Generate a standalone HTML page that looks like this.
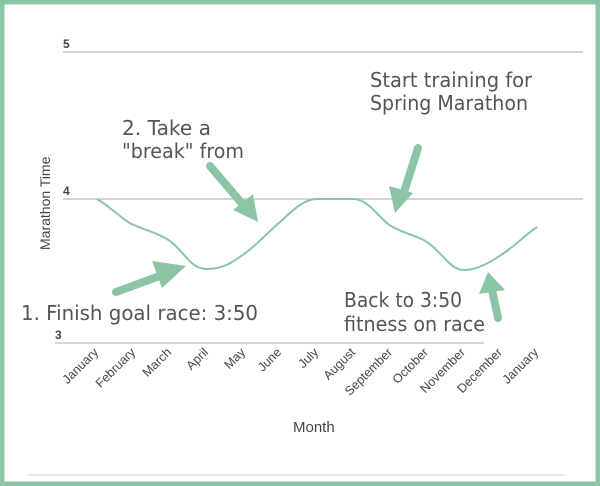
<!DOCTYPE html>
<html><head><style>
body{margin:0;background:#fff}
svg{display:block}
</style></head><body>
<svg width="600" height="486" xmlns="http://www.w3.org/2000/svg" font-family="Liberation Sans, sans-serif">
<rect x="2" y="2" width="596" height="482" fill="#fff" stroke="#8cc4a6" stroke-width="5"/>
<g stroke="#bbb" stroke-width="1.2">
<line x1="63" y1="52" x2="583" y2="52"/>
<line x1="63" y1="199" x2="583" y2="199"/>
<line x1="55" y1="343" x2="484" y2="343"/>
</g>
<line x1="28" y1="475" x2="565" y2="475" stroke="#e6e6e6" stroke-width="2"/>
<g font-size="12" font-weight="bold" fill="#444">
<text x="63" y="48">5</text><text x="63" y="195">4</text><text x="55" y="339">3</text>
</g>
<text transform="translate(50,250) rotate(-90)" font-size="14" fill="#444">Marathon Time</text>
<text x="293" y="432" font-size="15" fill="#444">Month</text>
<path d="M97,199 C115,210 125,222 134,225 C150,232 160,234 170,241 C185,252 190,269 207,269 C222,269 232,263 244,254 C258,244 268,232 280,222 C295,208 305,199 317,199 L354,199 C370,200 380,220 391,226 C405,234 418,236 427,242 C442,252 450,270 464,270 C478,270 490,262 501,255 C515,246 525,235 537,227" fill="none" stroke="#8cc4a6" stroke-width="2"/>
<g font-size="12.5" fill="#444" text-anchor="end">
<text transform="translate(99,353) rotate(-45)">January</text>
<text transform="translate(136,353) rotate(-45)">February</text>
<text transform="translate(172,353) rotate(-45)">March</text>
<text transform="translate(209,353) rotate(-45)">April</text>
<text transform="translate(246,353) rotate(-45)">May</text>
<text transform="translate(282,353) rotate(-45)">June</text>
<text transform="translate(319,353) rotate(-45)">July</text>
<text transform="translate(356,353) rotate(-45)">August</text>
<text transform="translate(393,353) rotate(-45)">September</text>
<text transform="translate(429,353) rotate(-45)">October</text>
<text transform="translate(466,353) rotate(-45)">November</text>
<text transform="translate(503,353) rotate(-45)">December</text>
<text transform="translate(539,353) rotate(-45)">January</text>
</g>
<g stroke="#8cc4a6" stroke-width="8" stroke-linecap="round" fill="#8cc4a6">
<line x1="116" y1="292" x2="165" y2="274"/>
<line x1="210" y1="166" x2="245" y2="207"/>
<line x1="418" y1="148" x2="404" y2="192"/>
<line x1="498" y1="318" x2="492" y2="290"/>
</g>
<g fill="#8cc4a6">
<polygon points="186,266 152,261 162,288"/>
<polygon points="258,222 233,210 253,194"/>
<polygon points="395,213 389,186 413,193"/>
<polygon points="488,272 479,294 505,290"/>
</g>
<g font-family="DejaVu Sans, sans-serif" font-size="20" fill="#555" lengthAdjust="spacingAndGlyphs">
<text x="122" y="135" textLength="89" lengthAdjust="spacingAndGlyphs">2. Take a</text>
<text x="122" y="158" textLength="122" lengthAdjust="spacingAndGlyphs">"break" from</text>
<text x="370" y="87" textLength="162" lengthAdjust="spacingAndGlyphs">Start training for</text>
<text x="370" y="110" textLength="158" lengthAdjust="spacingAndGlyphs">Spring Marathon</text>
<text x="21" y="320" textLength="237" lengthAdjust="spacingAndGlyphs">1. Finish goal race: 3:50</text>
<text x="344" y="307" textLength="118" lengthAdjust="spacingAndGlyphs">Back to 3:50</text>
<text x="344" y="331" textLength="141" lengthAdjust="spacingAndGlyphs">fitness on race</text>
</g>
</svg>
</body></html>
